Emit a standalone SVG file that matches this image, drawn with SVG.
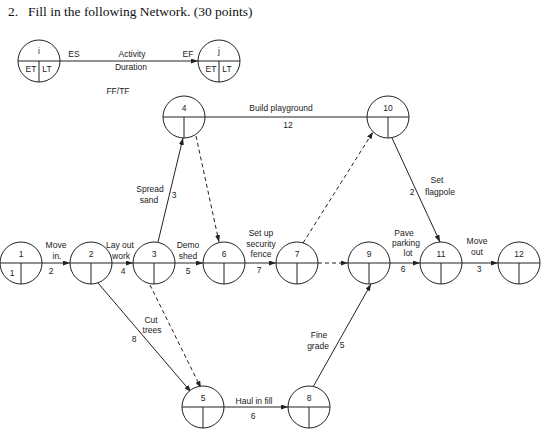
<svg xmlns="http://www.w3.org/2000/svg" width="547" height="436" viewBox="0 0 547 436">
<defs>
<style>
.c{fill:#fff;stroke:#222;stroke-width:1}
.l{fill:none;stroke:#222;stroke-width:1}
.d{fill:none;stroke:#222;stroke-width:1;stroke-dasharray:4 3}
.t{font-family:"Liberation Sans",Arial,sans-serif;font-size:8.5px;fill:#222;text-anchor:middle}
.ti{font-family:"Liberation Serif","Times New Roman",serif;font-size:13.5px;fill:#111}
</style>
<marker id="a" markerWidth="7" markerHeight="5" refX="7" refY="2.5" orient="auto" markerUnits="userSpaceOnUse">
<path d="M0,0 L7,2.5 L0,5 Z" fill="#222"/>
</marker>
</defs>
<rect width="547" height="436" fill="#fff"/>
<text class="ti" x="8" y="16">2.</text>
<text class="ti" x="28" y="16">Fill in the following Network. (30 points)</text>

<g id="legend">
<line class="l" x1="60" y1="61" x2="198" y2="61" marker-end="url(#a)"/>
<g id="legend-i">
<circle class="c" cx="39" cy="61" r="21"/>
<path class="l" d="M18 61 H60 M39 61 V82"/>
<text class="t" x="39" y="54">i</text>
<text class="t" x="31" y="72">ET</text>
<text class="t" x="47" y="72">LT</text>
</g>
<g id="legend-j">
<circle class="c" cx="219" cy="61" r="21"/>
<path class="l" d="M198 61 H240 M219 61 V82"/>
<text class="t" x="219" y="54">j</text>
<text class="t" x="211" y="72">ET</text>
<text class="t" x="227" y="72">LT</text>
</g>
<text class="t" x="74" y="57">ES</text>
<text class="t" x="132" y="57">Activity</text>
<text class="t" x="188" y="57">EF</text>
<text class="t" x="131" y="70">Duration</text>
<text class="t" x="118" y="94">FF/TF</text>
</g>

<g id="connectors">
<line class="l" x1="42" y1="263" x2="70" y2="263" marker-end="url(#a)"/>
<line class="l" x1="112" y1="263" x2="133" y2="263" marker-end="url(#a)"/>
<line class="l" x1="175" y1="263" x2="203" y2="263" marker-end="url(#a)"/>
<line class="l" x1="245" y1="263" x2="276" y2="263" marker-end="url(#a)"/>
<line class="d" x1="318" y1="263" x2="348" y2="263" marker-end="url(#a)"/>
<line class="l" x1="390" y1="263" x2="420" y2="263" marker-end="url(#a)"/>
<line class="l" x1="462" y1="263" x2="498" y2="263" marker-end="url(#a)"/>
<line class="l" x1="205" y1="117" x2="367" y2="117"/>
<line class="l" x1="158" y1="242" x2="183" y2="138" marker-end="url(#a)"/>
<line class="d" x1="196" y1="136" x2="219" y2="242" marker-end="url(#a)"/>
<line class="d" x1="303" y1="243" x2="373" y2="132" marker-end="url(#a)"/>
<line class="l" x1="392" y1="138" x2="440" y2="242" marker-end="url(#a)"/>
<line class="l" x1="98" y1="283" x2="191" y2="392" marker-end="url(#a)"/>
<line class="d" x1="150" y1="285" x2="201" y2="388" marker-end="url(#a)"/>
<line class="l" x1="224" y1="407" x2="288" y2="407" marker-end="url(#a)"/>
<line class="l" x1="313" y1="387" x2="371" y2="284" marker-end="url(#a)"/>

<text class="t" x="56" y="248">Move</text>
<text class="t" x="57" y="259">in.</text>
<text class="t" x="51" y="274">2</text>
<text class="t" x="120" y="248">Lay out</text>
<text class="t" x="121" y="259">work</text>
<text class="t" x="123" y="274">4</text>
<text class="t" x="188" y="248">Demo</text>
<text class="t" x="188" y="259">shed</text>
<text class="t" x="188" y="274">5</text>
<text class="t" x="261" y="236">Set up</text>
<text class="t" x="261" y="247">security</text>
<text class="t" x="261" y="257">fence</text>
<text class="t" x="259" y="273">7</text>
<text class="t" x="404" y="236">Pave</text>
<text class="t" x="406" y="246">parking</text>
<text class="t" x="408" y="256">lot</text>
<text class="t" x="403" y="272">6</text>
<text class="t" x="477" y="244">Move</text>
<text class="t" x="477" y="255">out</text>
<text class="t" x="479" y="272">3</text>
<text class="t" x="281" y="111">Build playground</text>
<text class="t" x="288" y="128">12</text>
<text class="t" x="150" y="192">Spread</text>
<text class="t" x="149" y="203">sand</text>
<text class="t" x="174" y="198">3</text>
<text class="t" x="437" y="183">Set</text>
<text class="t" x="440" y="195">flagpole</text>
<text class="t" x="412" y="195">2</text>
<text class="t" x="151" y="323">Cut</text>
<text class="t" x="152" y="333">trees</text>
<text class="t" x="134" y="342">8</text>
<text class="t" x="319" y="338">Fine</text>
<text class="t" x="318" y="349">grade</text>
<text class="t" x="342" y="348">5</text>
<text class="t" x="254" y="404">Haul in fill</text>
<text class="t" x="253" y="419">6</text>
</g>

<g id="n1"><circle class="c" cx="21" cy="263" r="21"/><path class="l" d="M0 263 H42 M21 263 V284"/><text class="t" x="21" y="257">1</text><text class="t" x="12" y="276">1</text></g>
<g id="n2"><circle class="c" cx="91" cy="263" r="21"/><path class="l" d="M70 263 H112 M91 263 V284"/><text class="t" x="91" y="257">2</text></g>
<g id="n3"><circle class="c" cx="154" cy="263" r="21"/><path class="l" d="M133 263 H175 M154 263 V284"/><text class="t" x="154" y="257">3</text></g>
<g id="n6"><circle class="c" cx="224" cy="263" r="21"/><path class="l" d="M203 263 H245 M224 263 V284"/><text class="t" x="224" y="257">6</text></g>
<g id="n7"><circle class="c" cx="297" cy="263" r="21"/><path class="l" d="M276 263 H318 M297 263 V284"/><text class="t" x="297" y="257">7</text></g>
<g id="n9"><circle class="c" cx="369" cy="263" r="21"/><path class="l" d="M348 263 H390 M369 263 V284"/><text class="t" x="369" y="257">9</text></g>
<g id="n11"><circle class="c" cx="441" cy="263" r="21"/><path class="l" d="M420 263 H462 M441 263 V284"/><text class="t" x="441" y="257">11</text></g>
<g id="n12"><circle class="c" cx="519" cy="263" r="21"/><path class="l" d="M498 263 H540 M519 263 V284"/><text class="t" x="519" y="257">12</text></g>
<g id="n4"><circle class="c" cx="184" cy="117" r="21"/><path class="l" d="M163 117 H205 M184 117 V138"/><text class="t" x="184" y="111">4</text></g>
<g id="n10"><circle class="c" cx="388" cy="117" r="21"/><path class="l" d="M367 117 H409 M388 117 V138"/><text class="t" x="388" y="111">10</text></g>
<g id="n5"><circle class="c" cx="203" cy="407" r="21"/><path class="l" d="M182 407 H224 M203 407 V428"/><text class="t" x="203" y="401">5</text></g>
<g id="n8"><circle class="c" cx="309" cy="407" r="21"/><path class="l" d="M288 407 H330 M309 407 V428"/><text class="t" x="309" y="401">8</text></g>
</svg>
